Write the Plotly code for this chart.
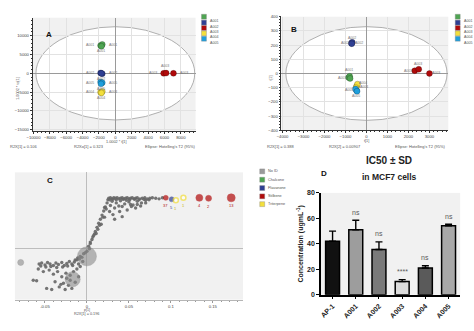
import plotly.graph_objects as go

W, H = 474, 331
def px(x): return x / W
def py(y): return 1 - y / H

# ---------------- data ----------------
groups = ["A001", "A002", "A003", "A004", "A005"]
group_colors = ["#4fa552", "#2f3f93", "#b00a0a", "#f3df3c", "#1f9fdc"]

# Panel A scores (t[1], to[1])
A_t1 = {"A001": [-1800, -1600, -1700], "A002": [-1800, -1600, -1700],
        "A003": [5900, 6200, 7100], "A004": [-1800, -1600, -1700],
        "A005": [-1800, -1600, -1750]}
A_t2 = {"A001": [7400, 7700, 7200], "A002": [100, -100, 0],
        "A003": [0, 60, 0], "A004": [-5000, -4800, -5200],
        "A005": [-2300, -2500, -2800]}

# Panel B scores (t[1], t[2])
B_t1 = {"A001": [-850, -800, -780], "A002": [-720, -680, -700],
        "A003": [2300, 2490, 3000], "A004": [-470, -430, -500],
        "A005": [-470, -520, -450]}
B_t2 = {"A001": [-28, -20, -35], "A002": [214, 220, 210],
        "A003": [20, 30, 0], "A004": [-90, -75, -100],
        "A005": [-120, -110, -125]}

# Panel C S-plot (p[1], p(corr)[1])
C_x = [0.026, 0.028, 0.030, 0.032, 0.034, 0.036, 0.038, 0.040, 0.042, 0.044,
       0.046, 0.048, 0.050, 0.052, 0.054, 0.056, 0.058, 0.060, 0.063, 0.066,
       0.069, 0.072, 0.075, 0.078, 0.082, 0.086, 0.090,
       0.030, 0.035, 0.040, 0.045, 0.050, 0.055, 0.060, 0.065, 0.070, 0.028,
       0.033, 0.038, 0.042, 0.048, 0.052, 0.058, 0.064,
       0.021, 0.027, 0.031, 0.039, 0.042, 0.033, 0.021, 0.017, 0.013, 0.009,
       0.007, 0.004, 0.060, 0.053, 0.070,
       0.002, 0.004, 0.006, 0.008, 0.010, 0.012, 0.014, 0.016, 0.018, 0.020,
       0.022, 0.024, 0.025, 0.011, 0.015, 0.019, 0.023,
       0.000, -0.004, -0.008, 0.003, -0.002, -0.011, -0.014,
       -0.057, -0.054, -0.050, -0.047, -0.044, -0.040, -0.037, -0.034, -0.030,
       -0.027, -0.024, -0.021, -0.018, -0.015, -0.012, -0.009, -0.006,
       -0.058, -0.052, -0.045, -0.040, -0.035, -0.030, -0.025, -0.020, -0.016,
       -0.012, -0.064, -0.060, -0.048, -0.038, -0.033, -0.028, -0.022, -0.018,
       -0.014, -0.042, -0.026, -0.010, -0.020, -0.024, -0.031, -0.008,
       0.027, 0.031, 0.035, 0.043, 0.047, 0.051, 0.057, 0.062, 0.068, 0.074,
       -0.055, -0.049, -0.043, -0.036, -0.029, -0.023, -0.017, -0.010, -0.005]
C_y = [0.99, 1.00, 0.98, 1.00, 0.99, 1.00, 0.98, 0.99, 1.00, 0.98,
       0.99, 1.00, 0.98, 0.99, 1.00, 0.98, 0.99, 1.00, 0.98, 0.99,
       1.00, 0.98, 0.99, 1.00, 0.99, 0.98, 1.00,
       0.93, 0.90, 0.94, 0.88, 0.92, 0.86, 0.93, 0.90, 0.95, 0.85,
       0.80, 0.84, 0.83, 0.76, 0.87, 0.80, 0.84,
       0.81, 0.73, 0.67, 0.73, 0.63, 0.58, 0.62, 0.48, 0.38, 0.29,
       0.23, 0.13, 0.87, 0.83, 0.90,
       0.05, 0.10, 0.18, 0.26, 0.34, 0.42, 0.50, 0.58, 0.66, 0.74,
       0.82, 0.90, 0.96, 0.30, 0.46, 0.62, 0.78,
       -0.05, -0.10, -0.15, 0.00, -0.08, -0.18, -0.22,
       -0.30, -0.28, -0.32, -0.27, -0.30, -0.33, -0.28, -0.31, -0.27,
       -0.33, -0.29, -0.25, -0.30, -0.26, -0.22, -0.20, -0.17,
       -0.40, -0.45, -0.42, -0.50, -0.45, -0.55, -0.48, -0.52, -0.45,
       -0.40, -0.62, -0.63, -0.78, -0.65, -0.75, -0.68, -0.72, -0.78,
       -0.66, -0.80, -0.80, -0.55, -0.62, -0.58, -0.70, -0.35,
       0.96, 0.97, 0.96, 0.97, 0.95, 0.96, 0.97, 0.96, 0.97, 0.96,
       -0.34, -0.36, -0.35, -0.37, -0.36, -0.34, -0.33, -0.30, -0.25]
C_big_x = [0.000, -0.017, -0.079]
C_big_y = [-0.15, -0.60, -0.27]
C_big_size = [19, 15, 6]

C_id_x = [0.094, 0.101, 0.106, 0.115, 0.134, 0.145, 0.172]
C_id_y = [1.00, 0.97, 0.95, 1.00, 1.00, 0.99, 1.00]
C_id_class = ["Stilbene", "Flavanone", "Triterpene", "Triterpene", "Stilbene", "Stilbene", "Stilbene"]
C_id_size = [5, 5, 5, 5, 7, 6, 8]
C_id_label = ["37", "5", "1", "1", "4", "2", "13"]
C_classes = ["No ID", "Chalcone", "Flavanone", "Stilbene", "Triterpene"]
C_class_colors = ["#9a9a9a", "#4fa552", "#2f3f93", "#b00a0a", "#f3df3c"]

# Panel D IC50
D_cats = ["AP-1", "A001", "A002", "A003", "A004", "A005"]
D_vals = [42, 51, 35.5, 10.3, 21, 54.2]
D_err = [8, 7.5, 6, 1.6, 1.8, 1.2]
D_sig = ["", "ns", "ns", "****", "ns", "ns"]
D_colors = ["#111111", "#9d9d9d", "#7a7a7a", "#dcdcdc", "#5a5a5a", "#a8a8a8"]

# ---------------- figure ----------------
fig = go.Figure()
FONT = "Liberation Sans"
SIMCA_GRAY = "#555555"
cmap = dict(zip(groups, group_colors))
ccmap = dict(zip(C_classes, C_class_colors))

def scores(tx, ty, xa, ya):
    for g in groups:
        fig.add_trace(go.Scatter(
            x=tx[g], y=ty[g], mode="markers", xaxis=xa, yaxis=ya, showlegend=False,
            marker=dict(size=6, color=cmap[g], line=dict(color="rgba(0,0,0,0.35)", width=0.6))))

scores(A_t1, A_t2, "x", "y")
scores(B_t1, B_t2, "x2", "y2")

# point labels (sample names)
ann = []
def lab(x, y, t, xr, yr, c="#777777"):
    ann.append(dict(x=x, y=y, xref=xr, yref=yr, text=t, showarrow=False,
                    font=dict(size=3.5, color=c, family=FONT)))
for g in groups:
    xs, ys = A_t1[g], A_t2[g]
    xm = sum(xs) / 3; ym = sum(ys) / 3
    if g == "A003":
        lab(min(xs) - 1300, ym, g, "x", "y"); lab(max(xs) + 1300, ym, g, "x", "y")
        lab(6100, ym + 2000, g, "x", "y")
    else:
        lab(xm - 1400, ym, g, "x", "y"); lab(xm + 1400, ym, g, "x", "y")
        lab(xm, ym - 1600, g, "x", "y")
# panel B labels
lab(-1180, -30, "A001", "x2", "y2"); lab(-820, 22, "A001", "x2", "y2")
lab(-1030, 214, "A002", "x2", "y2"); lab(-370, 214, "A002", "x2", "y2"); lab(-700, 250, "A002", "x2", "y2")
lab(1980, 20, "A003", "x2", "y2"); lab(3330, 0, "A003", "x2", "y2"); lab(2450, 70, "A003", "x2", "y2")
lab(-150, -65, "A004", "x2", "y2"); lab(-120, -95, "A004", "x2", "y2")
lab(-820, -118, "A005", "x2", "y2"); lab(-480, -160, "A005", "x2", "y2")

# Panel C
fig.add_trace(go.Scatter(x=C_x, y=C_y, mode="markers", xaxis="x3", yaxis="y3", showlegend=False,
                         marker=dict(size=3.4, color="#666666", opacity=0.9, line=dict(width=0))))
fig.add_trace(go.Scatter(x=C_big_x, y=C_big_y, mode="markers", xaxis="x3", yaxis="y3", showlegend=False,
                         marker=dict(size=C_big_size, color="#8a8a8a", opacity=0.6,
                                     line=dict(color="#6f6f6f", width=0.5))))
id_colors = [ccmap[c] for c in C_id_class]
fill = [("white" if c == "Triterpene" else ccmap[c]) for c in C_id_class]
fig.add_trace(go.Scatter(x=C_id_x, y=C_id_y, mode="markers", xaxis="x3", yaxis="y3", showlegend=False,
                         marker=dict(size=C_id_size, color=fill,
                                     line=dict(color=id_colors, width=[0.5, 0.5, 1.5, 1.5, 0.5, 0.5, 0.5]))))
for x, y, t, c in zip(C_id_x, C_id_y, C_id_label, id_colors):
    ann.append(dict(x=x, y=y - 0.16, xref="x3", yref="y3", text=t, showarrow=False,
                    font=dict(size=4, color=c if c != "#f3df3c" else "#c8b000", family=FONT)))

# Panel D
fig.add_trace(go.Bar(x=D_cats, y=D_vals, xaxis="x4", yaxis="y4", width=0.6, showlegend=False,
                     marker=dict(color=D_colors, line=dict(color="black", width=1.5)),
                     error_y=dict(type="data", array=D_err, arrayminus=[0] * 6, symmetric=False,
                                  color="black", thickness=1.4, width=3.5)))
for c, v, e, s in zip(D_cats, D_vals, D_err, D_sig):
    if s:
        ann.append(dict(x=c, y=v + e + 2, xref="x4", yref="y4", text=s, showarrow=False,
                        yanchor="bottom", font=dict(size=7, color="#5a5a5a", family=FONT)))

# ---------------- axes ----------------
tickf = dict(size=4.2, color="#444444", family=FONT)
def score_axes(xr, yr, xdom, ydom, xdt, ydt):
    common = dict(showgrid=True, gridcolor="#e2e2e2", gridwidth=0.6,
                  zeroline=True, zerolinecolor="#9a9a9a", zerolinewidth=1, showline=True,
                  linecolor="#333333", linewidth=0.8, ticks="outside", ticklen=2, tickwidth=0.6,
                  tickcolor="#333", tickfont=tickf, tickformat="d", separatethousands=False,
                  minor=dict(ticks="outside", ticklen=1.2, tickcolor="#333", nticks=5),
                  fixedrange=True)
    xa = dict(domain=xdom, range=xr, dtick=xdt, **common)
    ya = dict(domain=ydom, range=yr, dtick=ydt, **common)
    return xa, ya

xa1, ya1 = score_axes([-10100, 9800], [-15400, 14800], [px(27), px(192)], [py(130), py(14)], 2000, 5000)
xa2, ya2 = score_axes([-4050, 3900], [-400, 400], [px(279), px(448)], [py(129), py(13)], 1000, 100)
ya2["anchor"] = "x2"; xa2["anchor"] = "y2"

xa3 = dict(domain=[px(9), px(240)], range=[-0.0859, 0.186], anchor="y3", showgrid=False,
           zeroline=True, zerolinecolor="#bdbdbd", zerolinewidth=1, showline=True, linecolor="#b5b5b5",
           linewidth=0.8, ticks="outside", ticklen=2, tickcolor="#999", tickwidth=0.6,
           tickvals=[-0.05, 0, 0.05, 0.1, 0.15], ticktext=["-0.05", "0", "0.05", "0.1", "0.15"],
           tickfont=tickf, minor=dict(ticks="outside", ticklen=1.2, tickcolor="#999", dtick=0.01),
           fixedrange=True)
ya3 = dict(domain=[py(302), py(172)], range=[-1, 1.5], anchor="x3", showgrid=False,
           zeroline=True, zerolinecolor="#bdbdbd", zerolinewidth=1, showline=False,
           showticklabels=False, ticks="", fixedrange=True)

dfont = dict(size=7, color="#222222", family=FONT, weight=700)
xa4 = dict(domain=[px(319), px(460)], range=[-0.5, 5.5], anchor="y4", showline=True, linecolor="black",
           linewidth=1.5, ticks="outside", ticklen=3, tickwidth=1.2, tickcolor="black", tickangle=-45,
           tickfont=dfont, showgrid=False, zeroline=False, fixedrange=True)
ya4 = dict(domain=[py(297), py(193)], range=[0, 80], anchor="x4", showline=True, linecolor="black",
           linewidth=1.5, ticks="outside", ticklen=3, tickwidth=1.2, tickcolor="black",
           tickvals=[0, 20, 40, 60, 80], tickfont=dfont, showgrid=False, zeroline=False,
           title=dict(text="Concentration (ugmL<sup>-1</sup>)", font=dfont, standoff=3), fixedrange=True)

# ---------------- shapes (ellipses, legends) ----------------
shapes = [
    dict(type="circle", xref="x", yref="y", x0=-9700, x1=9700, y0=-12400, y1=12400,
         fillcolor="white", line=dict(color="#9c9c9c", width=0.8), layer="below"),
    dict(type="circle", xref="x2", yref="y2", x0=-3840, x1=3840, y0=-330, y1=330,
         fillcolor="white", line=dict(color="#9c9c9c", width=0.8), layer="below"),
]
def legend_block(x0, ys, labels, colors, box=5, fs=3.6):
    for yy, t, c in zip(ys, labels, colors):
        shapes.append(dict(type="rect", xref="paper", yref="paper",
                           x0=px(x0), x1=px(x0 + box), y0=py(yy + box / 2), y1=py(yy - box / 2),
                           fillcolor=c, line=dict(color="#888888", width=0.4)))
        ann.append(dict(x=px(x0 + box + 1.5), y=py(yy), xref="paper", yref="paper", text=t,
                        showarrow=False, xanchor="left", font=dict(size=fs, color="#555555", family=FONT)))

legend_block(198, [13, 19, 24.5, 30, 35.5], groups, group_colors)
legend_block(455, [13, 19, 24.5, 30, 35.5], groups, group_colors)
legend_block(257, [171, 179.5, 188, 196.5, 204.5], C_classes, C_class_colors, box=5, fs=3.8)

# ---------------- text annotations ----------------
def t(x, y, text, size, color=SIMCA_GRAY, bold=False, angle=0, xanchor="center"):
    ann.append(dict(x=px(x), y=py(y), xref="paper", yref="paper", text=text, showarrow=False,
                    textangle=angle, xanchor=xanchor,
                    font=dict(size=size, color=color, family=FONT, weight=700 if bold else 400)))

t(44, 25, "A", 8, "#111111", True)
t(292, 19, "B", 8, "#111111", True)
t(45, 180, "C", 8, "#111111", True)
t(322, 173, "D", 8, "#111111", True)
# A axis titles & footer
t(12, 72, "1.0002 * to[1]", 3.8, angle=-90)
t(111, 141, "1.0002 * t[1]", 3.8)
t(2, 146, "R2X[1] = 0.106", 4, xanchor="left")
t(67, 146, "R2Xo[1] = 0.323", 4, xanchor="left")
t(139, 146, "Ellipse: Hotelling's T2 (95%)", 4, xanchor="left")
# B axis titles & footer
t(268, 71, "t[2]", 3.8, angle=-90)
t(365, 140, "t[1]", 3.8)
t(262, 146, "R2X[1] = 0.388", 4, xanchor="left")
t(325, 146, "R2X[2] = 0.00907", 4, xanchor="left")
t(392, 146, "Ellipse: Hotelling's T2 (95%)", 4, xanchor="left")
# C axis title
t(82, 316.5, "p[1]", 3.6)
t(82, 321, "R2X[1] = 0.196", 3.8)
# D title
t(388, 160, "IC50 ± SD", 10, "#222222", True)
t(388, 177, "in MCF7 cells", 8.5, "#222222", True)

fig.update_layout(
    width=W, height=H, margin=dict(l=0, r=0, t=0, b=0),
    paper_bgcolor="white", plot_bgcolor="#f1f1f1",
    xaxis=xa1, yaxis=ya1, xaxis2=xa2, yaxis2=ya2,
    xaxis3=xa3, yaxis3=ya3, xaxis4=xa4, yaxis4=ya4,
    shapes=shapes, annotations=ann, showlegend=False,
    font=dict(family=FONT),
)
fig.write_html("out.html", config={"displayModeBar": False})
